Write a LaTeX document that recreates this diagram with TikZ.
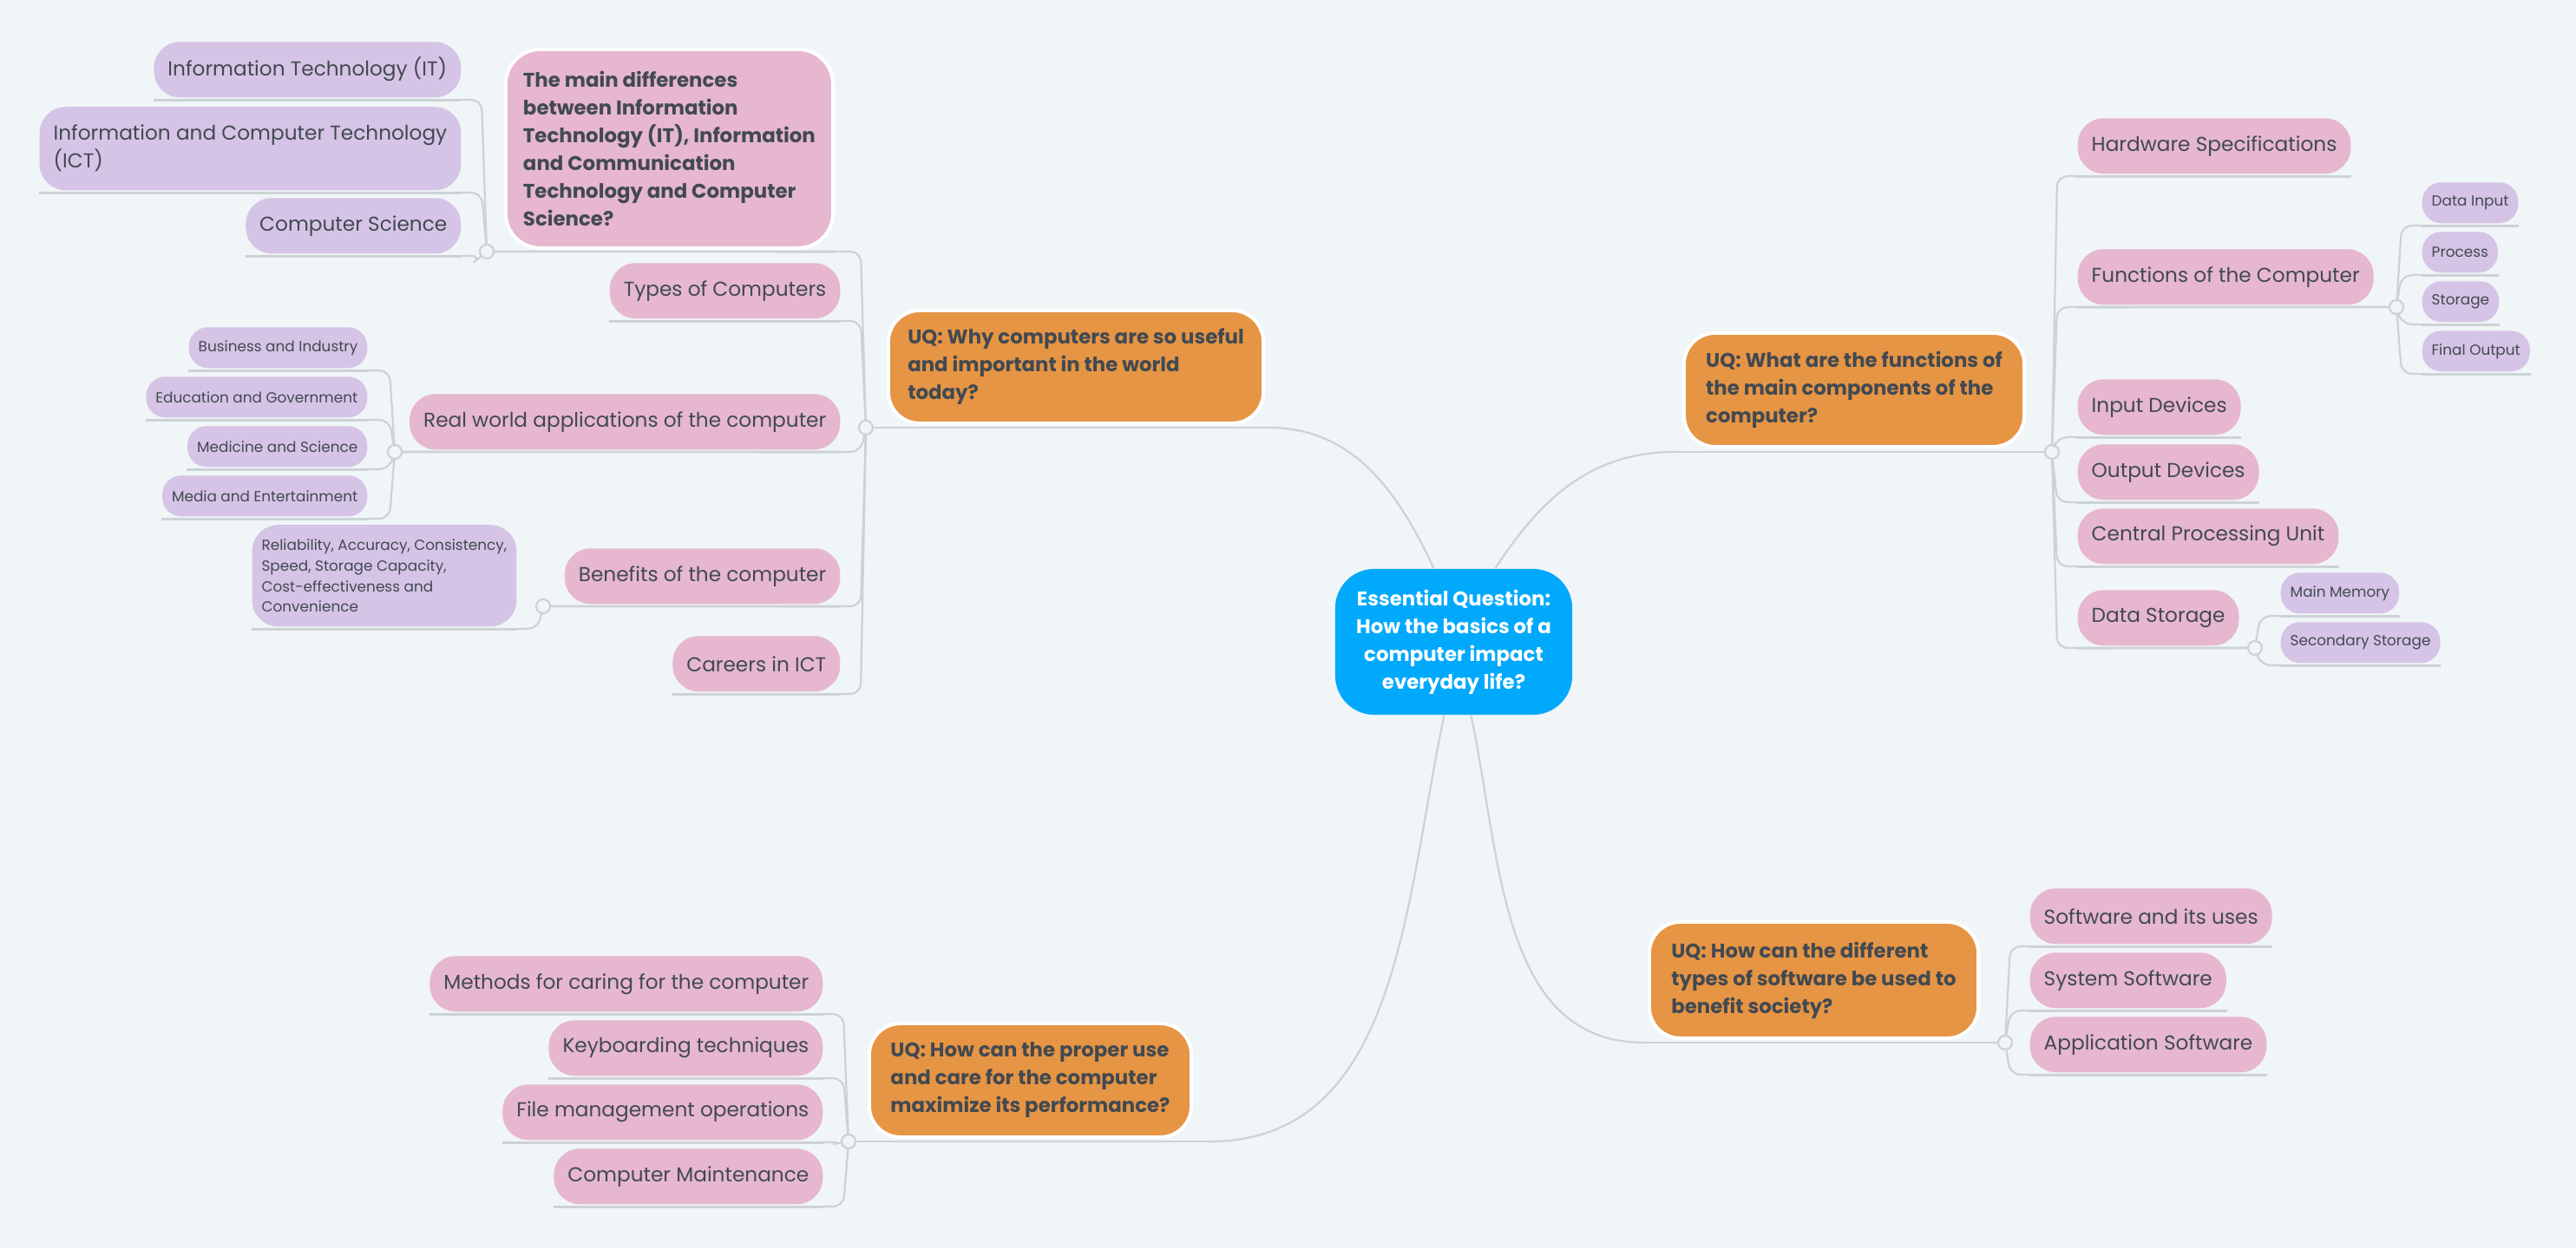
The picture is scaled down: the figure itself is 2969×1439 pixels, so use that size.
\documentclass[tikz,border=0pt]{standalone}
\usepackage{fontspec}
\setmainfont{Poppins}
\usetikzlibrary{calc}

\definecolor{bgcol}{RGB}{240,245,248}
\definecolor{pinkfill}{RGB}{230,183,207}
\definecolor{lilacfill}{RGB}{214,196,230}
\definecolor{uqorange}{RGB}{230,149,69}
\definecolor{coreblue}{RGB}{0,169,251}
\definecolor{ink}{RGB}{66,73,80}
\definecolor{linegray}{RGB}{204,210,214}

\begin{document}
\begin{tikzpicture}[
  x=0.01cm, y=-0.01cm,
  every node/.style={text=ink},
  core/.style={rectangle, rounded corners=0.45cm, fill=coreblue, text=white, align=center,
               minimum width=2.73cm, minimum height=1.68cm, font=\bfseries\fontsize{6.5}{9.1}\selectfont},
  uq/.style={rectangle, rounded corners=0.36cm, fill=uqorange, draw=white, line width=0.04cm,
             align=left, inner xsep=0.17cm, font=\bfseries\fontsize{6.5}{9.1}\selectfont},
  topic/.style={rectangle, rounded corners=0.3cm, fill=pinkfill, minimum height=0.64cm,
                inner xsep=0.16cm, inner ysep=0pt, font=\fontsize{6.6}{9.1}\selectfont},
  subbig/.style={topic, fill=lilacfill, align=left},
  sub/.style={rectangle, rounded corners=0.22cm, fill=lilacfill, minimum height=0.47cm, align=left,
              inner xsep=0.11cm, inner ysep=0pt, font=\fontsize{4.8}{6.8}\selectfont},
  junc/.style={circle, draw=linegray, fill=bgcol, line width=0.022cm, inner sep=0pt, minimum size=0.16cm},
  link/.style={draw=linegray, line width=0.022cm, rounded corners=0.12cm},
  uline/.style={draw=linegray, line width=0.028cm}
]
  \useasboundingbox (0,0) rectangle (2969,1439);
  \fill[bgcol] (0,0) rectangle (2969,1439);

  % ===== Central question =====
  \node[core] (eq) at (1675.5,740) {Essential Question:\\How the basics of a\\computer impact\\everyday life?};

  % ===== Unit questions =====
  \node[uq, minimum width=4.32cm, minimum height=1.30cm] (uq1) at (1240,423)
    {UQ: Why computers are so useful\\and important in the world\\today?};
  \node[uq, minimum width=3.92cm, minimum height=1.31cm] (uq2) at (2137,449.5)
    {UQ: What are the functions of\\the main components of the\\computer?};
  \node[uq, minimum width=3.79cm, minimum height=1.34cm] (uq3) at (2090.5,1130)
    {UQ: How can the different\\types of software be used to\\benefit society?};
  \node[uq, minimum width=3.71cm, minimum height=1.31cm] (uq4) at (1187.5,1245.5)
    {UQ: How can the proper use\\and care for the computer\\maximize its performance?};

  \coordinate (u1) at (1462,493);
  \coordinate (u2) at (1931,521);
  \coordinate (u3) at (1895,1202);
  \coordinate (u4) at (1394,1316);

  % ===== Left upper branch =====
  \node[uq, fill=pinkfill, rounded corners=0.4cm, minimum width=3.77cm, minimum height=2.29cm,
        anchor=south east] (diff) at (962,288)
    {The main differences\\between Information\\Technology (IT), Information\\and Communication\\Technology and Computer\\Science?};
  \node[topic, anchor=south east] (types) at (969,368) {Types of Computers};
  \node[topic, anchor=south east] (realworld) at (969,519) {Real world applications of the computer};
  \node[topic, anchor=south east] (benefits) at (969,697) {Benefits of the computer};
  \node[topic, anchor=south east] (careers) at (969,798) {Careers in ICT};

  \node[subbig, anchor=south east] (it) at (532,113) {Information Technology (IT)};
  \node[subbig, anchor=south east, minimum height=0.96cm] (ict) at (532,220)
    {Information and Computer Technology\\(ICT)};
  \node[subbig, anchor=south east] (cs) at (532,293) {Computer Science};

  \node[sub, anchor=south east] (biz) at (424,425) {Business and Industry};
  \node[sub, anchor=south east] (edu) at (424,482) {Education and Government};
  \node[sub, anchor=south east] (med) at (424,539) {Medicine and Science};
  \node[sub, anchor=south east] (media) at (424,596) {Media and Entertainment};

  \node[sub, anchor=south east, minimum height=1.17cm, rounded corners=0.3cm] (reli) at (596,723)
    {Reliability, Accuracy, Consistency,\\Speed, Storage Capacity,\\Cost-effectiveness and\\Convenience};

  % ===== Right upper branch =====
  \node[topic, anchor=south west] (hw) at (2394,201) {Hardware Specifications};
  \node[topic, anchor=south west] (func) at (2394,352) {Functions of the Computer};
  \node[topic, anchor=south west] (input) at (2394,502) {Input Devices};
  \node[topic, anchor=south west] (output) at (2394,577) {Output Devices};
  \node[topic, anchor=south west] (cpu) at (2394,651) {Central Processing Unit};
  \node[topic, anchor=south west] (datast) at (2394,745) {Data Storage};

  \node[sub, anchor=south west] (datain) at (2791,258) {Data Input};
  \node[sub, anchor=south west] (process) at (2791,315) {Process};
  \node[sub, anchor=south west] (storage) at (2791,372) {Storage};
  \node[sub, anchor=south west] (finalout) at (2791,429) {Final Output};

  \node[sub, anchor=south west] (mainmem) at (2628,708) {Main Memory};
  \node[sub, anchor=south west] (secstor) at (2628,765) {Secondary Storage};

  % ===== Right lower branch =====
  \node[topic, anchor=south west] (swuses) at (2339,1089) {Software and its uses};
  \node[topic, anchor=south west] (syssw) at (2339,1163) {System Software};
  \node[topic, anchor=south west] (appsw) at (2339,1237) {Application Software};

  % ===== Left lower branch =====
  \node[topic, anchor=south east] (methods) at (949,1167) {Methods for caring for the computer};
  \node[topic, anchor=south east] (keyb) at (949,1241) {Keyboarding techniques};
  \node[topic, anchor=south east] (files) at (949,1315) {File management operations};
  \node[topic, anchor=south east] (maint) at (949,1389) {Computer Maintenance};

  % ===== Junctions =====
  \node[junc] (j1) at (998,493) {};
  \node[junc] (jdiff) at (561,290) {};
  \node[junc] (jrw) at (455,521) {};
  \node[junc] (jben) at (626,699) {};
  \node[junc] (j2) at (2365,521) {};
  \node[junc] (jfun) at (2762,354) {};
  \node[junc] (jds) at (2599,747) {};
  \node[junc] (j3) at (2311,1202) {};
  \node[junc] (j4) at (978,1316) {};

  % ===== Underlines =====
  \foreach \c in {types,careers,it,ict,cs,biz,edu,med,media,reli,methods,keyb,files,maint,
                  hw,input,output,cpu,datain,process,storage,finalout,mainmem,secstor,swuses,syssw,appsw}
    \draw[uline] ([yshift=-0.6pt]\c.south west) -- ([yshift=-0.6pt]\c.south east);
  \draw[uline] (jdiff) -- ([yshift=-0.6pt]diff.south east);
  \draw[uline] (jrw) -- ([yshift=-0.6pt]realworld.south east);
  \draw[uline] (jben) -- ([yshift=-0.6pt]benefits.south east);
  \draw[uline] (jfun) -- ([yshift=-0.6pt]func.south west);
  \draw[uline] (jds) -- ([yshift=-0.6pt]datast.south west);
  \draw[uline] (j1) -- (u1);
  \draw[uline] (j2) -- (u2);
  \draw[uline] (j3) -- (u3);
  \draw[uline] (j4) -- (u4);

  % ===== From the central question =====
  \draw[link] ($(eq.north)+(-23,0)$) to[out=115,in=0] (u1);
  \draw[link] ($(eq.north)+(48,0)$) to[out=57,in=180] (u2);
  \draw[link] ($(eq.south)+(20,0)$) to[out=-78,in=180] (u3);
  \draw[link] ($(eq.south)+(-11,0)$) to[out=-102,in=0] (u4);

  % ===== Branch links, left side =====
  \foreach \j/\list in {j1/{diff,types,realworld,benefits,careers}, jdiff/{it,ict,cs},
                        jrw/{biz,edu,med,media}, jben/{reli}, j4/{methods,keyb,files,maint}}
    \foreach \c in \list
      \draw[link] (\j) -- ($(\j |- \c.south east)+(-6,2)$) -- ([yshift=-0.6pt]\c.south east);

  % ===== Branch links, right side =====
  \foreach \j/\list in {j2/{hw,func,input,output,cpu,datast}, jfun/{datain,process,storage,finalout},
                        jds/{mainmem,secstor}, j3/{swuses,syssw,appsw}}
    \foreach \c in \list
      \draw[link] (\j) -- ($(\j |- \c.south west)+(6,2)$) -- ([yshift=-0.6pt]\c.south west);
\end{tikzpicture}
\end{document}
